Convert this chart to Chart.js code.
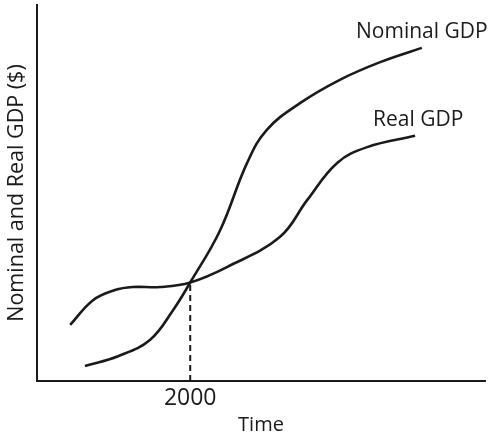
<!DOCTYPE html>
<html>
<head>
<meta charset="utf-8">
<script src="https://cdn.jsdelivr.net/npm/chart.js@4/dist/chart.umd.min.js"></script>
<style>
  html, body { margin: 0; padding: 0; background: #fff; }
  #wrap { width: 494px; height: 445px; }
</style>
</head>
<body>
<div id="wrap"><canvas id="chart"></canvas></div>
<script>
// Data (time 0-100, GDP 0-100)
const nominalTime = [10.7, 18.1, 25.2, 30.4, 34.2, 40.8, 46.9, 51.3, 58.7, 67.6, 76.6, 85.9];
const nominalGdp  = [4.0, 6.6, 10.9, 18.9, 26.2, 39.9, 58.0, 66.8, 73.9, 80.1, 84.8, 88.6];
const realTime = [7.4, 12.5, 17.4, 21.4, 27.5, 34.2, 42.4, 54.2, 60.3, 67.0, 73.7, 84.4];
const realGdp  = [14.9, 21.5, 24.2, 25.0, 25.0, 26.2, 30.3, 38.3, 48.1, 58.0, 62.2, 65.2];
const seriesNames = ['Nominal GDP', 'Real GDP'];
const tickTimes = [34.2];
const tickLabels = ['2000'];

const FONT = '"Open Sans", sans-serif';
const INK = '#1a1a1a';

function toPoints(xs, ys) {
  return xs.map((x, i) => ({ x: x, y: ys[i] }));
}

// dashed drop line from the crossing to the time axis
const crossY = nominalGdp[nominalTime.indexOf(tickTimes[0])];

// Curve labels, drawn just above each curve's end
const endLabels = {
  id: 'endLabels',
  afterDatasetsDraw(chart) {
    const ctx = chart.ctx;
    ctx.save();
    ctx.font = '21px ' + FONT;
    ctx.fillStyle = INK;
    ctx.textAlign = 'center';
    ctx.textBaseline = 'middle';
    [0, 1].forEach(i => {
      const meta = chart.getDatasetMeta(i);
      const last = meta.data[meta.data.length - 1];
      ctx.fillText(seriesNames[i], last.x + (i ? 3 : 0), last.y - 16);
    });
    ctx.restore();
  }
};

new Chart(document.getElementById('chart'), {
  type: 'scatter',
  data: {
    datasets: [
      {
        label: seriesNames[0],
        data: toPoints(nominalTime, nominalGdp),
        showLine: true,
        borderColor: INK,
        borderWidth: 2.6,
        pointRadius: 0,
        tension: 0.4
      },
      {
        label: seriesNames[1],
        data: toPoints(realTime, realGdp),
        showLine: true,
        borderColor: INK,
        borderWidth: 2.6,
        pointRadius: 0,
        tension: 0.4
      },
      {
        label: 'drop',
        data: [{ x: tickTimes[0], y: 0 }, { x: tickTimes[0], y: crossY }],
        showLine: true,
        borderColor: INK,
        borderWidth: 2,
        borderDash: [6, 4],
        pointRadius: 0
      }
    ]
  },
  options: {
    responsive: true,
    maintainAspectRatio: false,
    animation: false,
    layout: { padding: { top: 5, right: 9, left: 0, bottom: 0 } },
    plugins: {
      legend: { display: false },
      tooltip: { enabled: false }
    },
    scales: {
      x: {
        type: 'linear',
        min: 0,
        max: 100,
        grid: { display: false, drawTicks: false },
        border: { color: INK, width: 2 },
        afterBuildTicks: (scale) => {
          scale.ticks = tickTimes.map(v => ({ value: v }));
        },
        afterFit: (scale) => { scale.height = 64; },
        ticks: {
          color: INK,
          font: { family: FONT, size: 23 },
          padding: 4,
          maxRotation: 0,
          callback: (v) => tickLabels[tickTimes.indexOf(v)]
        },
        title: {
          display: true,
          text: 'Time',
          color: INK,
          font: { family: FONT, size: 20 },
          padding: { top: 0, bottom: 8 }
        }
      },
      y: {
        type: 'linear',
        min: 0,
        max: 100,
        grid: { display: false, drawTicks: false },
        border: { color: INK, width: 2 },
        ticks: { display: false },
        afterFit: (scale) => { scale.width = 37; },
        title: {
          display: true,
          text: 'Nominal and Real GDP ($)',
          color: INK,
          font: { family: FONT, size: 21.5 },
          padding: { top: 4, bottom: 0 }
        }
      }
    }
  },
  plugins: [endLabels]
});
</script>
</body>
</html>
